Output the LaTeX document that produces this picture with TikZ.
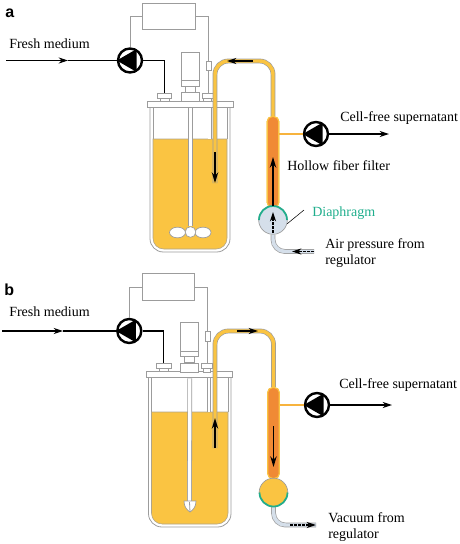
\documentclass[tikz,border=0pt]{standalone}
\usepackage{fontspec}
\setmainfont{Liberation Serif}
\setsansfont{Liberation Sans}
\usepackage{tikz}
\usetikzlibrary{arrows.meta,positioning,calc,shapes.geometric}
\definecolor{brothYellow}{HTML}{FAC442}
\definecolor{filterOrange}{HTML}{F08A35}
\definecolor{wireGray}{HTML}{9C9C9C}
\definecolor{gasBlue}{HTML}{D5DFEA}
\definecolor{membraneGreen}{HTML}{1FAE8C}
\tikzset{
  % Grey hardware: controller, motor, ports.
  part/.style={draw=wireGray, fill=white, line width=0.6pt, inner sep=0pt},
  wire/.style={draw=wireGray, line width=0.6pt},
  % Black feed lines and their tips.
  flow/.style={-{Stealth[length=7pt,width=4.6pt]}, draw=black, line width=0.8pt},
  line/.style={draw=black, line width=0.8pt},
  tubeflow/.style={-{Stealth[length=8pt,width=4.8pt]}, draw=black, line width=1pt},
  dashflow/.style={flow, dash pattern=on 2pt off 1pt},
  % Tubes are double lines.
  broth/.style={draw=wireGray, line width=0.5pt, double=brothYellow, double distance=2.6pt},
  bleed/.style={draw=wireGray, line width=0.3pt, double=brothYellow!70!filterOrange, double distance=1.6pt},
  gas/.style={draw=wireGray, line width=0.5pt, double=gasBlue, double distance=2.6pt},
  whitetube/.style={draw=wireGray, line width=0.6pt, double=white, double distance=2.4pt},
  pumphead/.style={circle, draw=black, fill=white, line width=1.8pt, minimum size=18pt, inner sep=0pt},
  filtercol/.style={draw=brothYellow, fill=filterOrange, line width=0.8pt, minimum width=8.6pt,
                    rounded corners=3.5pt, inner sep=0pt},
  chamber/.style={circle, draw=wireGray, line width=0.5pt, minimum size=21.5pt, inner sep=0pt},
  bladepart/.style={draw=wireGray, fill=white, line width=0.5pt, inner sep=0pt},
  txt/.style={font=\fontsize{10.5}{12}\selectfont, anchor=base west, inner sep=0pt},
  txtblock/.style={font=\fontsize{10.5}{12}\selectfont, anchor=north west, inner sep=0pt, align=left},
  tag/.style={font=\fontsize{12}{14}\selectfont\sffamily\bfseries, anchor=base west, inner sep=0pt},
}
\begin{document}
\begin{tikzpicture}[x=0.75pt,y=-0.75pt]
  \useasboundingbox (0,0) rectangle (460,544);
  % bench common to both panels
  \foreach \pn/\dx/\dy/\vl/\vr/\vb/\lq in {A/0/0/150/230/252/139,B/-0.7/270.5/148.5/231/527/412}{
    \node[part, minimum width=39.5pt, minimum height=20pt] (ctrl\pn) at (169+\dx,16.5+\dy) {};
    \node[pumphead] (feed\pn) at (130+\dx,60.5+\dy) {};
    \node[part, minimum width=3.6pt, minimum height=7pt] (sensor\pn) at (208.5+\dx,66+\dy) {};
    \draw[wire] (ctrl\pn.west) -| (feed\pn.north);
    \draw[wire] (ctrl\pn.east) -| (sensor\pn.north);
    % vessel
    \draw[wire, rounded corners=10pt] (\vl,105+\dy) -- (\vl,\vb) -- (\vr,\vb) -- (\vr,105+\dy);
    \draw[wire] (\vl+3,105+\dy) -- (\vl+3,\lq) (\vr-3,105+\dy) -- (\vr-3,\lq);
    \draw[draw=wireGray!80!brothYellow, fill=brothYellow, line width=0.4pt]
      (\vl+3,\lq) [rounded corners=8pt] -- (\vl+3,\vb-3) -- (\vr-3,\vb-3) [sharp corners] -- (\vr-3,\lq) -- cycle;
    % head plate, motor, ports
    \node[part, minimum width=64.5pt, minimum height=4.6pt] (lid\pn) at (190+\dx,104.3+\dy) {};
    \node[part, minimum width=13.5pt, minimum height=25.5pt] (motor\pn) at (190.5+\dx,69+\dy) {};
    \draw[wire] ($(motor\pn.south west)+(0,-6)$) -- ($(motor\pn.south east)+(0,-6)$);
    \node[part, minimum width=7.5pt, minimum height=4.5pt] (coupling\pn) at (190.5+\dx,89+\dy) {};
    \node[part, minimum width=13.5pt, minimum height=6.8pt] (mount\pn) at (190.5+\dx,97+\dy) {};
    \node[part, minimum width=6.8pt, minimum height=2.6pt] (inneck\pn) at (164.5+\dx,99.5+\dy) {};
    \node[part, minimum width=11pt, minimum height=3.8pt] (inport\pn) at (164.5+\dx,95.5+\dy) {};
    \node[part, minimum width=5.5pt, minimum height=3pt] (probeneck\pn) at (207.5+\dx,99.5+\dy) {};
    \node[part, minimum width=8.2pt, minimum height=3.8pt] (probeport\pn) at (207.5+\dx,95.5+\dy) {};
    \draw[wire] (sensor\pn.south) -- (probeport\pn.north -| sensor\pn.south);
    \draw[line] (feed\pn.east) -| (inport\pn.north);
    \coordinate (probeend\pn) at (209.5+\dx,\lq);
    \draw[whitetube, double distance=1.8pt] (lid\pn.south -| probeend\pn) -- (probeend\pn);
    \coordinate (shafttop\pn) at (lid\pn.south -| motor\pn.south);
  }
  % panel a
  \node[tag] (taga) at (5,17) {a};
  \node[txt] (freshA) at (9,48) {Fresh medium};
  \coordinate (inA) at (6,60.5);
  \coordinate (inmidA) at (68,60.5);
  \draw[flow] (inA) -- (inmidA);
  \draw[line] (inmidA) -- (feedA.west);
  % impeller
  \node[bladepart, ellipse, minimum width=12pt, minimum height=8pt] (lobeAl) at (177.5,232.5) {};
  \node[bladepart, ellipse, minimum width=12pt, minimum height=8pt] (lobeAr) at (203,232.5) {};
  \node[bladepart, circle, minimum size=8pt] (hubA) at (190.5,232) {};
  \draw[whitetube] (shafttopA) -- (hubA.north);
  % recirculation tube
  \node[filtercol, minimum height=68pt] (filterA) at (273,162) {};
  \coordinate (tubeendA) at (215,183);
  \draw[broth, rounded corners=10pt] (tubeendA) -- (215,61) -- (273,61) -- (filterA.north);
  \node[filtercol, minimum height=68pt] at (filterA) {};
  \coordinate (toparrowA) at (253,61);
  \coordinate (topheadA) at (227,61);
  \draw[flow] (toparrowA) -- (topheadA);
  \coordinate (downarrowA) at (215,152);
  \draw[tubeflow] (downarrowA) -- (tubeendA);
  % hose and chamber
  \node[chamber, fill=gasBlue] (chamberA) at (273,220) {};
  \coordinate (hoseA) at (314,251.5);
  \draw[gas, rounded corners=9pt] (chamberA.south) -- (273,251.5) -- (hoseA);
  \draw[membraneGreen, line width=1.3pt] (chamberA.center) ++(180:14) arc[start angle=180, end angle=360, radius=14];
  \draw[tubeflow] (273,206) -- (273,157);
  \draw[dashflow] (273,233) -- (273,212);
  \draw[dashflow] (hoseA) -- (292,251.5);
  % permeate
  \node[pumphead] (bleedA) at (316,134) {};
  \draw[bleed] (filterA.east |- bleedA.west) -- (bleedA.west);
  \coordinate (outA) at (389,134);
  \draw[flow] (bleedA.east) -- (outA);
  \node[txt] (cellfreeA) at (340,121) {Cell-free supernatant};
  \node[txt] (fiberA) at (287,170) {Hollow fiber filter};
  \node[txt, text=membraneGreen] (diaA) at (312,216) {Diaphragm};
  \draw[line, line width=0.4pt] (chamberA.-15) -- (304,210);
  \node[txtblock] (airA) at (325,238) {Air pressure from\\regulator};
  % panel b
  \node[tag] (tagb) at (4,295) {b};
  \node[txt] (freshB) at (9,316.5) {Fresh medium};
  \coordinate (inB) at (2,331);
  \coordinate (inmidB) at (63,331);
  \draw[flow] (inB) -- (inmidB);
  \draw[line] (inmidB) -- (feedB.west);
  % blade seen end on
  \draw[whitetube] (shafttopB) -- (189.5,502) coordinate (hubB);
  \draw[bladepart] (184,501) -- (196,501) .. controls (196,507) and (193,510) .. (190,512)
    .. controls (187,510) and (184,507) .. (184,501) -- cycle;
  \draw[wire] (hubB) -- (190,512);
  \node[filtercol, minimum height=68pt] (filterB) at (273.5,433) {};
  \coordinate (tubeendB) at (215,448);
  \draw[broth, rounded corners=10pt] (tubeendB) -- (215,331) -- (273.5,331) -- (filterB.north);
  \node[filtercol, minimum height=68pt] at (filterB) {};
  \coordinate (toparrowB) at (237,331);
  \coordinate (topheadB) at (258,331);
  \draw[flow] (toparrowB) -- (topheadB);
  \coordinate (uparrowB) at (215,418);
  \draw[tubeflow] (tubeendB) -- (uparrowB);
  \node[chamber, fill=brothYellow] (chamberB) at (273.5,492.5) {};
  \coordinate (hoseB) at (316,525);
  \draw[gas, rounded corners=9pt] (chamberB.south) -- (273.5,525) -- (hoseB);
  \draw[membraneGreen, line width=1.3pt] (chamberB.center) ++(0:14) arc[start angle=0, end angle=180, radius=14];
  \draw[tubeflow] (273.5,426) -- (273.5,467);
  \draw[dashflow] (290,525) -- (hoseB);
  \node[pumphead] (bleedB) at (317,405) {};
  \draw[bleed] (filterB.east |- bleedB.west) -- (bleedB.west);
  \coordinate (outB) at (392,405);
  \draw[flow] (bleedB.east) -- (outB);
  \node[txt] (cellfreeB) at (339,388) {Cell-free supernatant};
  \node[txtblock] (vacB) at (328,512) {Vacuum from\\regulator};
  % pump rotors
  \foreach \p in {feedA,bleedA,feedB,bleedB}{
    \fill[black] (\p.west) -- (\p.60) -- (\p.-60) -- cycle;
  }
\end{tikzpicture}
\end{document}
